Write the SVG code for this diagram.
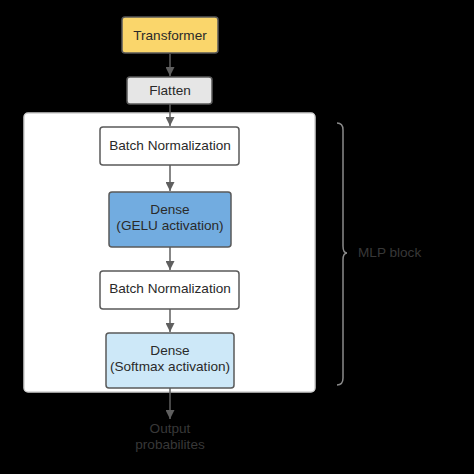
<svg xmlns="http://www.w3.org/2000/svg" width="474" height="474" viewBox="0 0 474 474">
<defs>
<style>
.n{stroke:#5a5a5a;stroke-width:1.5}
.t{font-family:"Liberation Sans",Arial,sans-serif;font-size:13.6px;fill:#2a2a2a;text-anchor:middle}
.c{stroke:#5f5f5f;stroke-width:1.5;fill:none}
.g{font-family:"Liberation Sans",Arial,sans-serif;font-size:13.6px;fill:#383838}
</style>
<marker id="a" viewBox="0 0 10 10" refX="10" refY="5" markerWidth="9" markerHeight="9" markerUnits="userSpaceOnUse" orient="auto">
<path d="M0,0 L10,5 L0,10 z" fill="#5f5f5f"/>
</marker>
</defs>
<rect width="474" height="474" fill="#000"/>
<g id="mlp-block">
<rect x="24" y="113" width="291" height="279" rx="4" fill="#fff" stroke="#cfcfcf" stroke-width="1.5"/>
</g>
<g id="connectors">
<line class="c" x1="170" y1="54" x2="170" y2="76" marker-end="url(#a)"/>
<line class="c" x1="170" y1="104" x2="170" y2="126" marker-end="url(#a)"/>
<line class="c" x1="170" y1="165" x2="170" y2="191" marker-end="url(#a)"/>
<line class="c" x1="170" y1="247" x2="170" y2="270" marker-end="url(#a)"/>
<line class="c" x1="170" y1="309" x2="170" y2="332" marker-end="url(#a)"/>
<line class="c" x1="170" y1="388" x2="170" y2="419" marker-end="url(#a)"/>
</g>
<g id="transformer">
<rect class="n" x="122" y="17" width="96" height="36" rx="3" fill="#fad66b"/>
<text class="t" x="170" y="40">Transformer</text>
</g>
<g id="flatten">
<rect class="n" x="127" y="77" width="85" height="27" rx="3" fill="#e6e6e6"/>
<text class="t" x="170" y="95">Flatten</text>
</g>
<g id="bn1">
<rect class="n" x="100" y="127" width="139" height="38" rx="3" fill="#fff"/>
<text class="t" x="170" y="150">Batch Normalization</text>
</g>
<g id="dense-gelu">
<rect class="n" x="109" y="192" width="122" height="55" rx="3" fill="#72ace0"/>
<text class="t" x="170" y="214">Dense</text>
<text class="t" x="170" y="230">(GELU activation)</text>
</g>
<g id="bn2">
<rect class="n" x="100" y="271" width="139" height="38" rx="3" fill="#fff"/>
<text class="t" x="170" y="293">Batch Normalization</text>
</g>
<g id="dense-softmax">
<rect class="n" x="106" y="333" width="128" height="55" rx="3" fill="#cde8f8"/>
<text class="t" x="170" y="355">Dense</text>
<text class="t" x="170" y="371">(Softmax activation)</text>
</g>
<g id="output">
<text class="g" x="170" y="433" text-anchor="middle">Output</text>
<text class="g" x="170" y="449" text-anchor="middle">probabilites</text>
</g>
<g id="brace">
<path d="M337,123 Q343,123 343,130 L343,246 Q343,253 347,253 Q343,253 343,260 L343,378 Q343,385 337,385" fill="none" stroke="#8a8a8a" stroke-width="1.5"/>
<text class="g" x="358" y="257">MLP block</text>
</g>
</svg>
